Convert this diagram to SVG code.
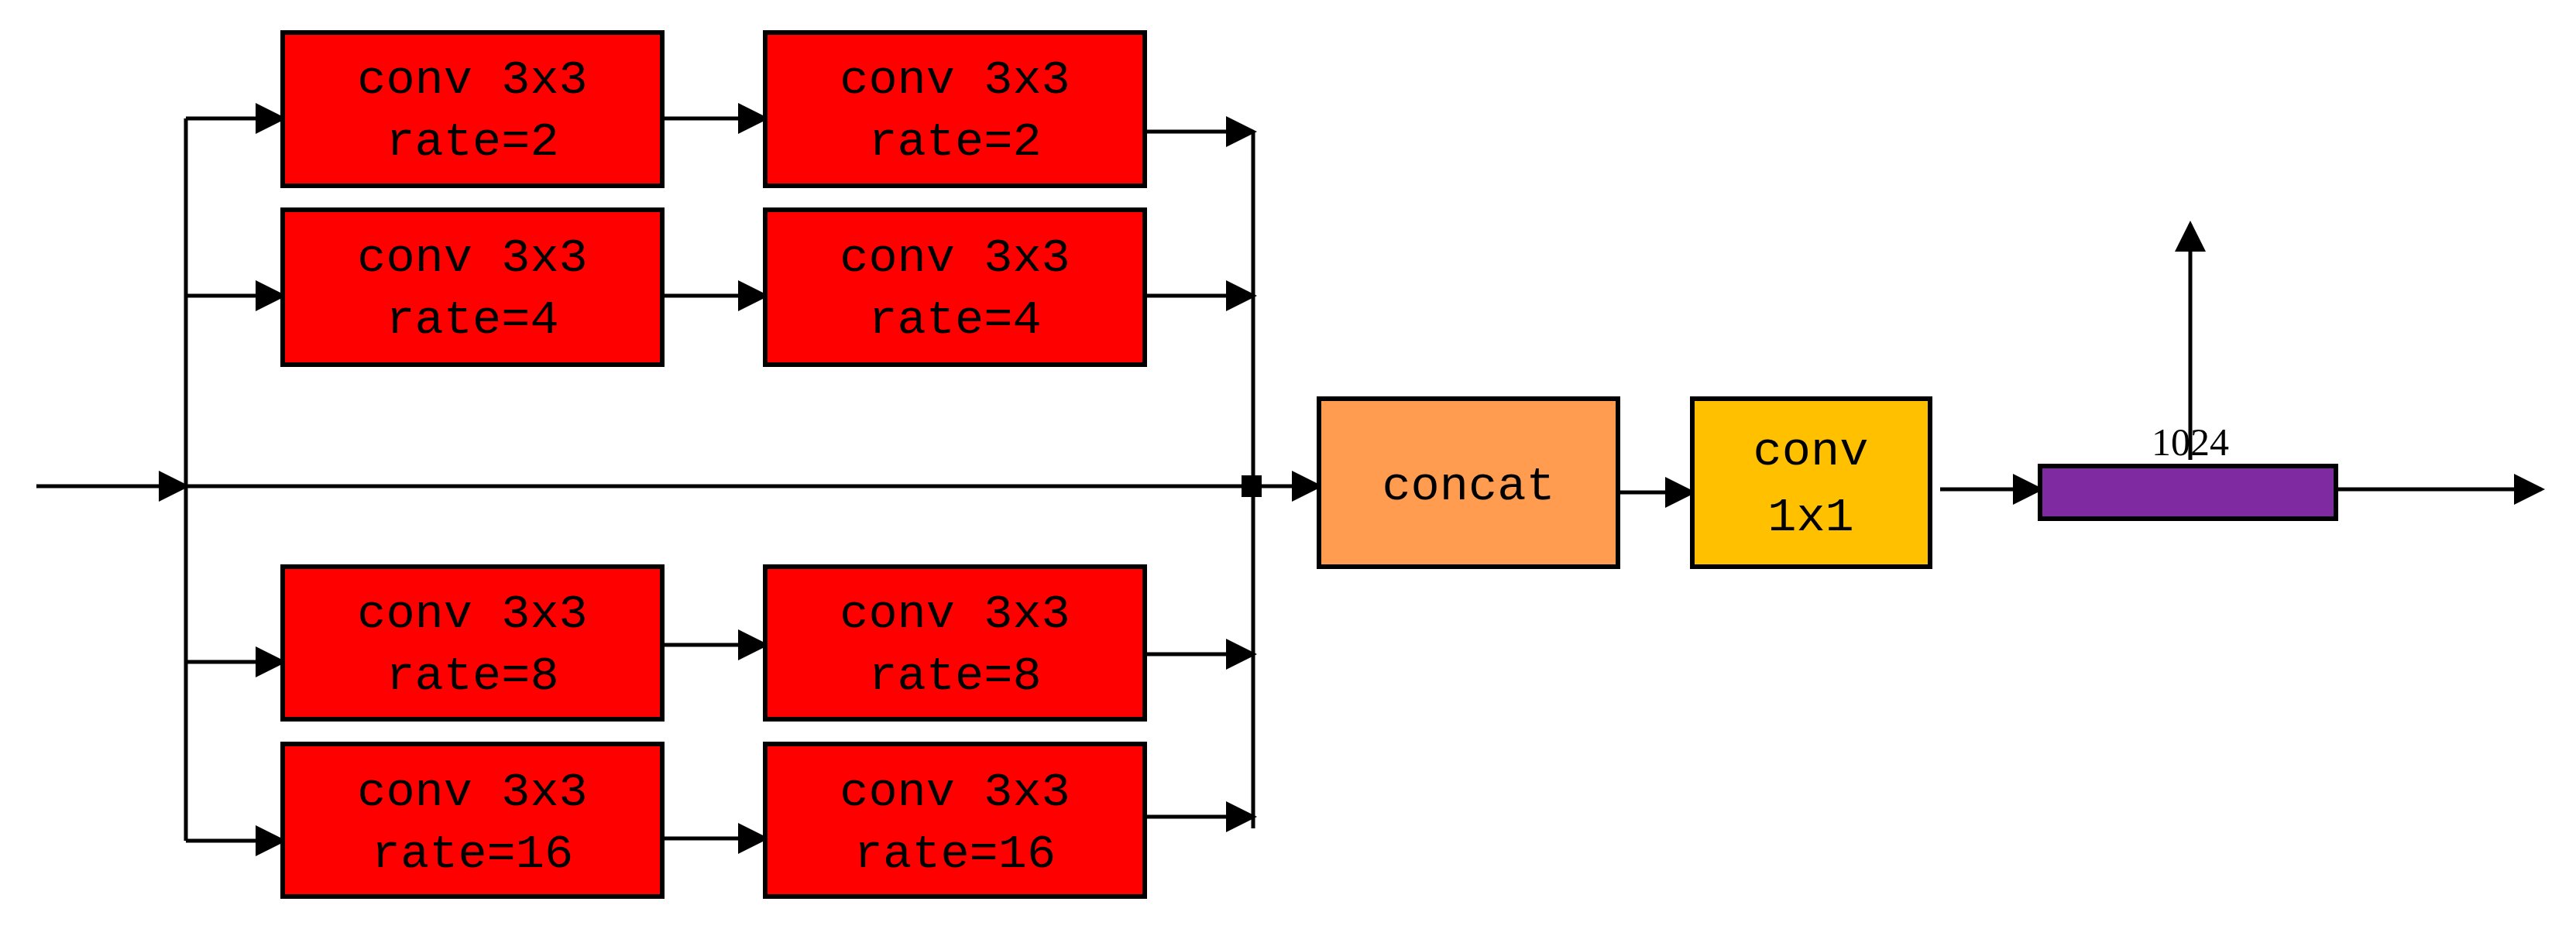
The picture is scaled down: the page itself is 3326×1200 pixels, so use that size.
<svg xmlns="http://www.w3.org/2000/svg" width="3326" height="1200" viewBox="0 0 3326 1200">
<style>
.b{stroke:#000;stroke-width:6}
.r{fill:#ff0000}
text{font-family:"Liberation Mono","DejaVu Sans Mono",monospace;font-size:62px;fill:#000;text-anchor:middle}
.c{fill:none;stroke:#000;stroke-width:5}
</style>
<defs>
<marker id="a" markerWidth="8" markerHeight="8" refX="7" refY="4" orient="auto" markerUnits="strokeWidth"><path d="M0,0L8,4L0,8z" fill="#000"/></marker>
</defs>
<rect width="3326" height="1200" fill="#fff"/>
<g id="connectors" class="c">
<path d="M47,628H240" marker-end="url(#a)"/>
<path d="M240,628H1618"/>
<path d="M240,153V1086"/>
<path d="M240,153H365" marker-end="url(#a)"/>
<path d="M240,382H365" marker-end="url(#a)"/>
<path d="M240,855H365" marker-end="url(#a)"/>
<path d="M240,1086H365" marker-end="url(#a)"/>
<path d="M855,153H988" marker-end="url(#a)"/>
<path d="M855,382H988" marker-end="url(#a)"/>
<path d="M855,833H988" marker-end="url(#a)"/>
<path d="M855,1083H988" marker-end="url(#a)"/>
<path d="M1478,170H1618" marker-end="url(#a)"/>
<path d="M1478,382H1618" marker-end="url(#a)"/>
<path d="M1478,845H1618" marker-end="url(#a)"/>
<path d="M1478,1055H1618" marker-end="url(#a)"/>
<path d="M1618,170V1070"/>
<rect x="1603" y="614" width="26" height="28" fill="#000" stroke="none"/>
<path d="M1629,628H1703" marker-end="url(#a)"/>
<path d="M2089,636H2185" marker-end="url(#a)"/>
<path d="M2505,632H2634" marker-end="url(#a)"/>
<path d="M3016,632H3281" marker-end="url(#a)"/>
<path d="M2828,594V290" marker-end="url(#a)"/>
</g>
<g id="n1"><rect class="b r" x="365" y="42" width="490" height="198"/><text x="610" y="120">conv 3x3</text><text x="610" y="200">rate=2</text></g>
<g id="n2"><rect class="b r" x="988" y="42" width="490" height="198"/><text x="1233" y="120">conv 3x3</text><text x="1233" y="200">rate=2</text></g>
<g id="n3"><rect class="b r" x="365" y="271" width="490" height="200"/><text x="610" y="350">conv 3x3</text><text x="610" y="430">rate=4</text></g>
<g id="n4"><rect class="b r" x="988" y="271" width="490" height="200"/><text x="1233" y="350">conv 3x3</text><text x="1233" y="430">rate=4</text></g>
<g id="n5"><rect class="b r" x="365" y="732" width="490" height="197"/><text x="610" y="810">conv 3x3</text><text x="610" y="890">rate=8</text></g>
<g id="n6"><rect class="b r" x="988" y="732" width="490" height="197"/><text x="1233" y="810">conv 3x3</text><text x="1233" y="890">rate=8</text></g>
<g id="n7"><rect class="b r" x="365" y="961" width="490" height="197"/><text x="610" y="1040">conv 3x3</text><text x="610" y="1120">rate=16</text></g>
<g id="n8"><rect class="b r" x="988" y="961" width="490" height="197"/><text x="1233" y="1040">conv 3x3</text><text x="1233" y="1120">rate=16</text></g>
<g id="concat"><rect class="b" fill="#ff9c4f" x="1703" y="515" width="386" height="217"/><text x="1896" y="645">concat</text></g>
<g id="conv1x1"><rect class="b" fill="#ffc000" x="2185" y="515" width="307" height="217"/><text x="2338" y="600">conv</text><text x="2338" y="685">1x1</text></g>
<g id="fc"><rect class="b" fill="#7f2aa0" x="2634" y="602" width="382" height="68"/><text x="2828" y="588" style="font-family:'Liberation Serif',serif;font-size:50px">1024</text></g>
</svg>
